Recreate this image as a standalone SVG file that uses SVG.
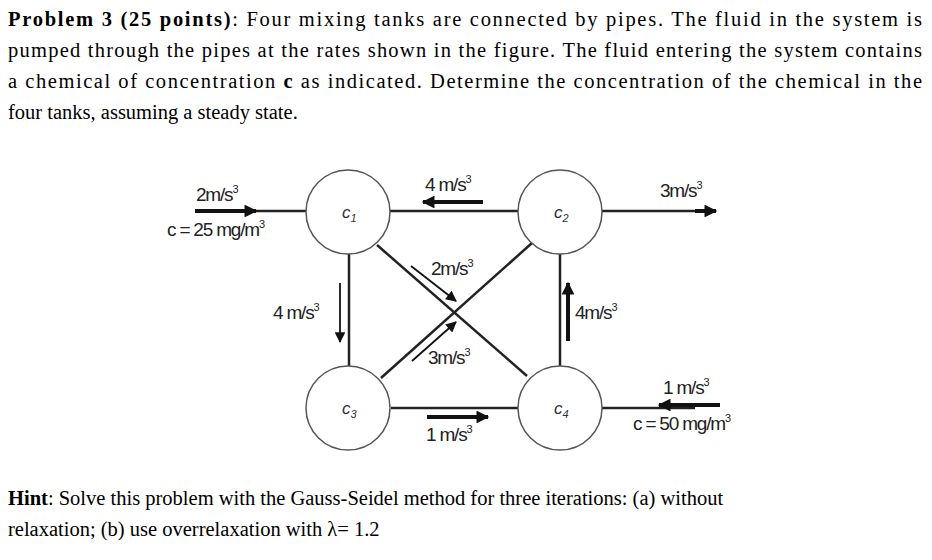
<svg xmlns="http://www.w3.org/2000/svg" width="932" height="560" viewBox="0 0 932 560">
<defs>
<style>
.t{font-family:"Liberation Serif",serif;font-size:20.5px;fill:#000}
.l{font-family:"Liberation Sans",sans-serif;font-size:19px;fill:#222;letter-spacing:-1.2px}
.s{font-size:11px}
.n{font-family:"Liberation Sans",sans-serif;font-size:17px;fill:#333;font-style:italic}
.tank{fill:#fff;stroke:#555;stroke-width:1.5}
.p{stroke:#222;stroke-width:2.5;fill:none}
.a{stroke:#111;stroke-width:4;fill:none}
.th{stroke:#111;stroke-width:1.8;fill:none}
</style>
<marker id="h" viewBox="0 0 10 10" refX="9" refY="5" markerWidth="4" markerHeight="3.2" orient="auto" markerUnits="strokeWidth"><path d="M0,0L10,5L0,10z" fill="#111"/></marker>
<marker id="h2" viewBox="0 0 10 10" refX="9" refY="5" markerWidth="8" markerHeight="6" orient="auto" markerUnits="strokeWidth"><path d="M0,0L10,5L0,10z" fill="#111"/></marker>
</defs>
<text class="t" x="8" y="26" textLength="914" lengthAdjust="spacing"><tspan font-weight="bold">Problem 3 (25 points)</tspan>: Four mixing tanks are connected by pipes. The fluid in the system is</text>
<text class="t" x="8" y="57" textLength="914" lengthAdjust="spacing">pumped through the pipes at the rates shown in the figure. The fluid entering the system contains</text>
<text class="t" x="8" y="88" textLength="914" lengthAdjust="spacing">a chemical of concentration <tspan font-weight="bold">c</tspan> as indicated. Determine the concentration of the chemical in the</text>
<text class="t" x="8" y="119">four tanks, assuming a steady state.</text>
<text class="t" x="8" y="505"><tspan font-weight="bold">Hint</tspan>: Solve this problem with the Gauss-Seidel method for three iterations: (a) without</text>
<text class="t" x="8" y="536">relaxation; (b) use overrelaxation with λ= 1.2</text>
<g id="connectors">
<line class="p" x1="255" y1="211" x2="306" y2="211"/>
<line class="p" x1="390" y1="211" x2="518" y2="211"/>
<line class="p" x1="602" y1="211" x2="695" y2="211"/>
<line class="p" x1="349" y1="254" x2="349" y2="366"/>
<line class="p" x1="560" y1="254" x2="560" y2="366"/>
<line class="p" x1="377" y1="245" x2="527" y2="376"/>
<line class="p" x1="381" y1="378" x2="532" y2="243"/>
<line class="p" x1="391" y1="408" x2="518" y2="408"/>
<line class="p" x1="602" y1="408" x2="695" y2="408"/>
<line class="a" x1="195" y1="211" x2="256" y2="211" marker-end="url(#h)"/>
<line class="a" x1="483" y1="202" x2="423" y2="202" marker-end="url(#h)"/>
<line class="a" x1="695" y1="211" x2="716" y2="211" marker-end="url(#h)"/>
<line class="th" x1="340" y1="283" x2="340" y2="342" marker-end="url(#h2)"/>
<line class="a" x1="568" y1="341" x2="568" y2="283" marker-end="url(#h)"/>
<line class="th" x1="411" y1="266" x2="456" y2="301" marker-end="url(#h2)"/>
<line class="th" x1="412" y1="361" x2="456" y2="322" marker-end="url(#h2)"/>
<line class="a" x1="427" y1="417" x2="488" y2="417" marker-end="url(#h)"/>
<line class="a" x1="720" y1="405" x2="659" y2="405" marker-end="url(#h)"/>
</g>
<g id="c1"><circle class="tank" cx="348" cy="212" r="42"/><text class="n" x="342" y="218">c<tspan class="s" dy="4">1</tspan></text></g>
<g id="c2"><circle class="tank" cx="560" cy="212" r="42"/><text class="n" x="554" y="218">c<tspan class="s" dy="4">2</tspan></text></g>
<g id="c3"><circle class="tank" cx="348" cy="408" r="42"/><text class="n" x="342" y="414">c<tspan class="s" dy="4">3</tspan></text></g>
<g id="c4"><circle class="tank" cx="560" cy="408" r="42"/><text class="n" x="554" y="414">c<tspan class="s" dy="4">4</tspan></text></g>
<g id="labels">
<text class="l" x="196" y="201">2m/s<tspan class="s" dy="-8">3</tspan></text>
<text class="l" x="167" y="236">c = 25 mg/m<tspan class="s" dy="-8">3</tspan></text>
<text class="l" x="425" y="191">4 m/s<tspan class="s" dy="-8">3</tspan></text>
<text class="l" x="660" y="197">3m/s<tspan class="s" dy="-8">3</tspan></text>
<text class="l" x="273" y="319">4 m/s<tspan class="s" dy="-8">3</tspan></text>
<text class="l" x="431" y="275">2m/s<tspan class="s" dy="-8">3</tspan></text>
<text class="l" x="428" y="364">3m/s<tspan class="s" dy="-8">3</tspan></text>
<text class="l" x="575" y="319">4m/s<tspan class="s" dy="-8">3</tspan></text>
<text class="l" x="426" y="441">1 m/s<tspan class="s" dy="-8">3</tspan></text>
<text class="l" x="663" y="394">1 m/s<tspan class="s" dy="-8">3</tspan></text>
<text class="l" x="633" y="430">c = 50 mg/m<tspan class="s" dy="-8">3</tspan></text>
</g>
</svg>
